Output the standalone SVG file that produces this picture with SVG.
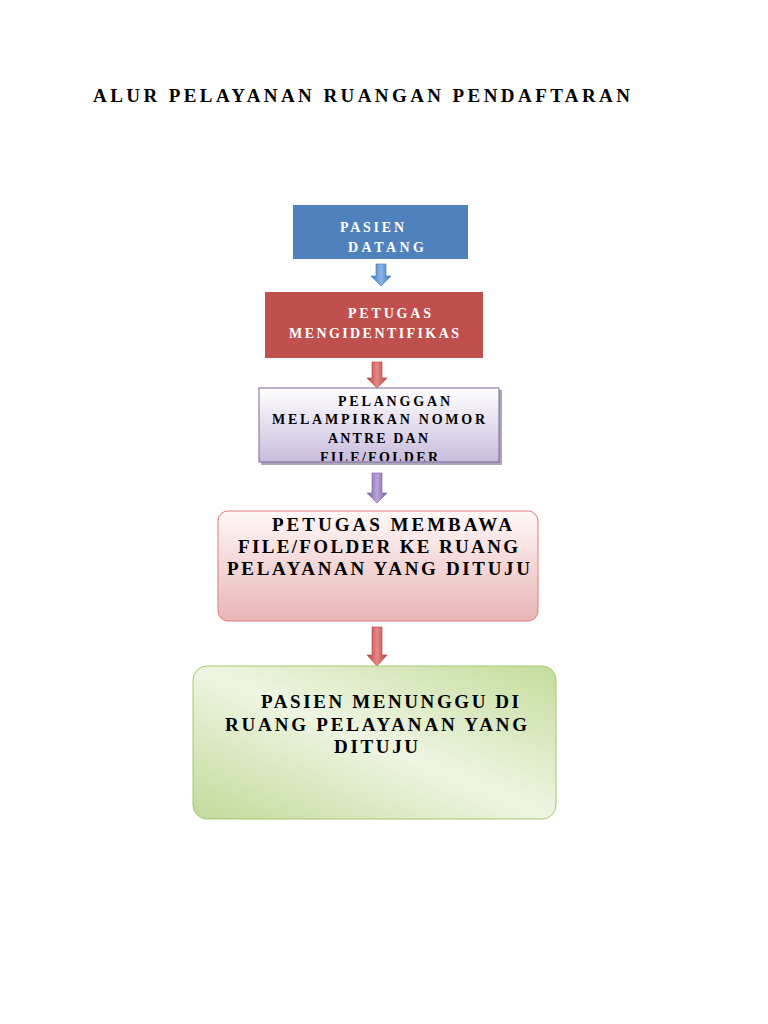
<svg xmlns="http://www.w3.org/2000/svg" width="768" height="1024" viewBox="0 0 768 1024">
<style>
text{font-family:"Liberation Serif",serif;font-weight:bold}
.s{font-size:14px}
.l{font-size:19px;fill:#000}
</style>
<defs>
<linearGradient id="gp" x1="0" y1="0" x2="0" y2="1"><stop offset="0" stop-color="#ffffff"/><stop offset="1" stop-color="#c9bcdc"/></linearGradient>
<linearGradient id="gr" x1="0" y1="0" x2="0" y2="1"><stop offset="0" stop-color="#fff8f8"/><stop offset="1" stop-color="#e9b5b5"/></linearGradient>
<linearGradient id="gg" x1="1" y1="0" x2="0" y2="1"><stop offset="0" stop-color="#c4dc9c"/><stop offset="0.5" stop-color="#eef5e2"/><stop offset="1" stop-color="#c2d99a"/></linearGradient>
<linearGradient id="ab" x1="0" x2="1"><stop offset="0" stop-color="#3d78c0"/><stop offset="0.5" stop-color="#8ab4e4"/><stop offset="1" stop-color="#3d78c0"/></linearGradient>
<linearGradient id="ar" x1="0" x2="1"><stop offset="0" stop-color="#b83c3a"/><stop offset="0.5" stop-color="#e48a88"/><stop offset="1" stop-color="#b83c3a"/></linearGradient>
<linearGradient id="ap" x1="0" x2="1"><stop offset="0" stop-color="#7d5fa6"/><stop offset="0.5" stop-color="#b9a3d6"/><stop offset="1" stop-color="#7d5fa6"/></linearGradient>
<clipPath id="c1"><rect x="293" y="205" width="175" height="47"/></clipPath>
<clipPath id="c3"><rect x="259" y="388" width="241" height="73"/></clipPath>
</defs>
<text x="93" y="102" style="font-size:19px" fill="#000" textLength="537" lengthAdjust="spacing">ALUR PELAYANAN RUANGAN PENDAFTARAN</text>
<g id="connectors">
<path d="M376,264h10v12h5l-10,10l-10,-10h5z" fill="url(#ab)" stroke="#3d78c0" stroke-width="0.6"/>
<path d="M372,362h10v16h5l-10,10l-10,-10h5z" fill="url(#ar)" stroke="#b83c3a" stroke-width="0.6"/>
<path d="M372,473h10v20h5l-10,10l-10,-10h5z" fill="url(#ap)" stroke="#7d5fa6" stroke-width="0.6"/>
<path d="M372,627h10v28h5l-10,11l-10,-11h5z" fill="url(#ar)" stroke="#b83c3a" stroke-width="0.6"/>
</g>
<g id="n1">
<rect x="293" y="205" width="175" height="54" fill="#4f81bd"/>
<g clip-path="url(#c1)"><text x="340" y="232" class="s" fill="#fff" textLength="64" lengthAdjust="spacing">PASIEN</text><text x="348" y="252" class="s" fill="#fff" textLength="76" lengthAdjust="spacing">DATANG</text></g>
</g>
<g id="n2">
<rect x="265" y="292" width="218" height="66" fill="#c0504d"/>
<text x="348" y="318" class="s" fill="#fff" textLength="83" lengthAdjust="spacing">PETUGAS</text>
<text x="289" y="338" class="s" fill="#fff" textLength="170" lengthAdjust="spacing">MENGIDENTIFIKAS</text>
</g>
<g id="n3">
<rect x="261" y="390" width="241" height="75" fill="#a9a9b8"/>
<rect x="259" y="388" width="240" height="74" fill="url(#gp)" stroke="#8064a2" stroke-width="1"/>
<g clip-path="url(#c3)">
<text x="338" y="406" class="s" fill="#000" textLength="112" lengthAdjust="spacing">PELANGGAN</text>
<text x="272" y="424" class="s" fill="#000" textLength="213" lengthAdjust="spacing">MELAMPIRKAN NOMOR</text>
<text x="328" y="443" class="s" fill="#000" textLength="100" lengthAdjust="spacing">ANTRE DAN</text>
<text x="320" y="462" class="s" fill="#000" textLength="118" lengthAdjust="spacing">FILE/FOLDER</text>
</g>
</g>
<g id="n4">
<rect x="218" y="511" width="320" height="110" rx="10" fill="url(#gr)" stroke="#e07b7b" stroke-width="1"/>
<text x="272" y="531" class="l" textLength="240" lengthAdjust="spacing">PETUGAS MEMBAWA</text>
<text x="238" y="553" class="l" textLength="280" lengthAdjust="spacing">FILE/FOLDER KE RUANG</text>
<text x="227" y="575" class="l" textLength="303" lengthAdjust="spacing">PELAYANAN YANG DITUJU</text>
</g>
<g id="n5">
<rect x="193" y="666" width="363" height="153" rx="14" fill="url(#gg)" stroke="#a6c96a" stroke-width="1"/>
<text x="261" y="708" class="l" textLength="258" lengthAdjust="spacing">PASIEN MENUNGGU DI</text>
<text x="225" y="731" class="l" textLength="302" lengthAdjust="spacing">RUANG PELAYANAN YANG</text>
<text x="334" y="753" class="l" textLength="84" lengthAdjust="spacing">DITUJU</text>
</g>
</svg>
